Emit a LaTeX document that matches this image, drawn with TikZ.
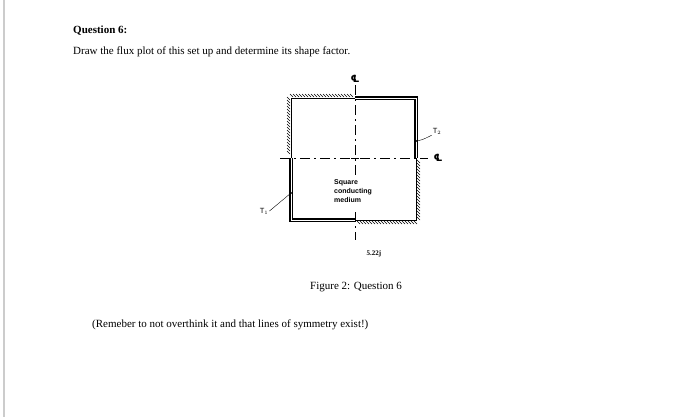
\documentclass[tikz,border=0pt]{standalone}
\usepackage{fontspec}
\setmainfont{Liberation Serif}
\newfontfamily\dv{DejaVu Sans}
\newfontfamily\lsans{Liberation Sans}
\begin{document}
\begin{tikzpicture}[x=1pt,y=-1pt,
  txt/.style={anchor=west,inner sep=0,font=\fontsize{11}{13}\selectfont},
  lab/.style={inner sep=1pt,font=\lsans\fontsize{7.5}{9}\selectfont},
  cl/.style={semithick,dash pattern=on 10pt off 4pt on 2pt off 4pt},
  wall/.style={line width=1.4pt,double=white,double distance=0.7pt},
  hatch/.style={thin}]
\useasboundingbox[fill=white] (0,0) rectangle (700,417);
\draw[gray!40,line width=2pt] (4,0) -- (4,417);
\node[txt,font=\bfseries\fontsize{11}{13}\selectfont] (q) at (73,31) {Question 6:};
\node[txt] (d) at (73,52) {Draw the flux plot of this set up and determine its shape factor.};
\node[txt] (f) at (310,287) {Figure 2: Question 6};
\node[txt] (r) at (92,325) {(Remeber to not overthink it and that lines of symmetry exist!)};
% square
\coordinate (tl) at (291,98); \coordinate (tr) at (416,98);
\coordinate (bl) at (291,220); \coordinate (br) at (416,220);
\coordinate (tm) at (355,98); \coordinate (bm) at (355,220);
\coordinate (lm) at (291,158); \coordinate (rm) at (416,158);
\draw[semithick] (tl) -- (tm) (lm) -- (tl);
\draw[semithick] (rm) -- (br) -- (bm);
\draw[wall] (tm) -- (tr) -- (rm);
\draw[wall] (lm) -- (bl) -- (bm);
% hatching
\foreach \x in {293,296,...,353} \draw[hatch] (\x,97) -- (\x-3,94);
\foreach \y in {100,103,...,156} \draw[hatch] (290,\y) -- (287,\y-3);
\foreach \y in {160,163,...,218} \draw[hatch] (417,\y) -- (420,\y+3);
\foreach \x in {357,360,...,416} \draw[hatch] (\x,221) -- (\x+3,224);
% centerlines
\draw[cl] (355,85) -- (355,176);
\draw[cl] (355,212) -- (355,240);
\draw[cl] (280,158) -- (428,158);
\draw[semithick] (351,158) -- (359,158);
\node[lab,font=\dv\bfseries\fontsize{10}{11}\selectfont] (c1) at (355,79) {℄};
\node[lab,font=\dv\bfseries\fontsize{10}{11}\selectfont] (c2) at (438,158) {℄};
\node[lab,align=left,anchor=north west,font=\lsans\bfseries\fontsize{7}{9}\selectfont] (sq) at (333,178) {Square\\conducting\\medium};
\node[lab] (t2) at (437,131) {T$_2$};
\node[lab] (t1) at (264,211) {T$_1$};
\coordinate (p2) at (416,141); \coordinate (p1) at (291,193);
\fill (p2) circle (1.2pt); \fill (p1) circle (1.2pt);
\draw[thin] (p2) .. controls (422,140) .. (t2.south west);
\draw[thin] (p1) -- (t1.east);
\node[lab,font=\bfseries\fontsize{7}{9}\selectfont] (n) at (374,254) {5.22j};
\end{tikzpicture}
\end{document}
